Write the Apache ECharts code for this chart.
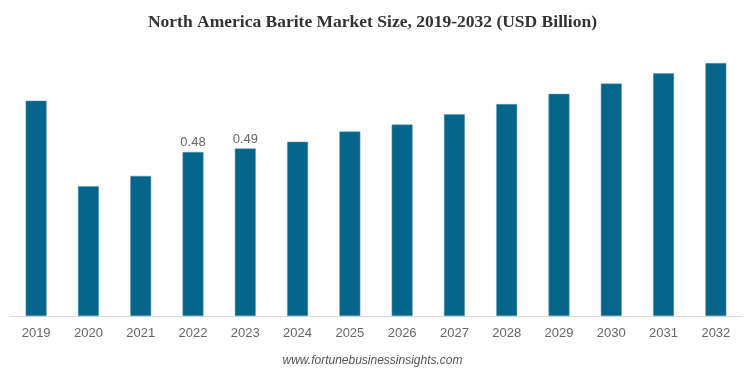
<!DOCTYPE html>
<html><head><meta charset="utf-8">
<script src="https://cdn.jsdelivr.net/npm/echarts@6/dist/echarts.min.js"></script>
<style>html,body{margin:0;padding:0;background:#fff}#c{width:745px;height:372px}</style>
</head><body><div id="c"></div>
<script>
const categories = ['2019','2020','2021','2022','2023','2024','2025','2026','2027','2028','2029','2030','2031','2032'];
const values = [0.63, 0.38, 0.41, 0.48, 0.49, 0.51, 0.54, 0.56, 0.59, 0.62, 0.65, 0.68, 0.71, 0.74];
const labelledYears = ['2022','2023'];

const chart = echarts.init(document.getElementById('c'));
chart.setOption({
  animation: false,
  title: {
    text: 'North America Barite Market Size, 2019-2032 (USD Billion)',
    left: 'center', top: 8,
    textStyle: { fontFamily: 'Liberation Serif', fontWeight: 'bold', fontSize: 17.5, color: '#333' }
  },
  graphic: [{
    type: 'text', left: 'center', top: 355,
    style: { text: 'www.fortunebusinessinsights.com', font: 'italic 12px "Liberation Sans", Arial', fill: '#555' }
  }],
  grid: { left: 10, right: 3, top: 42.6, bottom: 56 },
  xAxis: {
    type: 'category', data: categories,
    axisLine: { lineStyle: { color: '#d9d9d9' } },
    axisTick: { show: false },
    axisLabel: { color: '#666', fontSize: 13, fontFamily: 'Liberation Sans', margin: 11 }
  },
  yAxis: { type: 'value', min: 0, max: 0.8, show: false, splitLine: { show: false } },
  series: [{
    type: 'bar', barWidth: '40%',
    itemStyle: { color: '#05658a', borderColor: '#5b9ab5', borderWidth: 0.5 },
    data: values.map((v, i) => ({
      value: v,
      label: { show: labelledYears.includes(categories[i]), position: 'top', distance: 3,
               color: '#666', fontSize: 13, fontFamily: 'Liberation Sans' }
    }))
  }]
});
</script></body></html>
